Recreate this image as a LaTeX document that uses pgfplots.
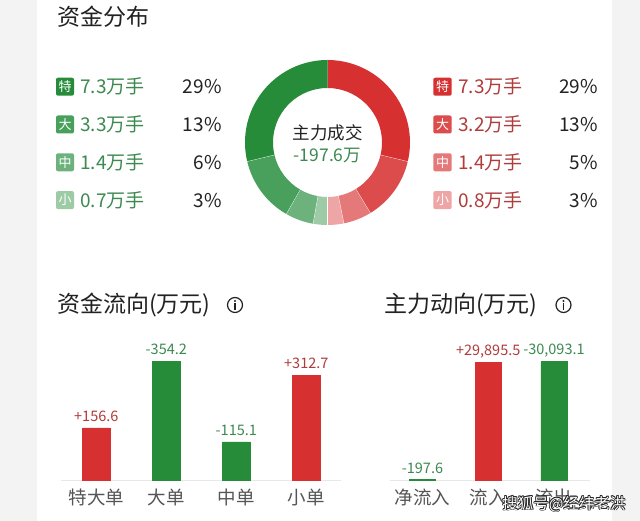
\documentclass[border=0pt]{standalone}
\usepackage{pgfplots}
\pgfplotsset{compat=1.18}
\usepackage{pgfplotstable}
\usepackage{fontspec}
\setmainfont{Noto Sans CJK SC}
\definecolor{bg}{HTML}{F3F3F3}
\definecolor{gA}{HTML}{268C3A}
\definecolor{gB}{HTML}{48A05C}
\definecolor{gC}{HTML}{6DB27C}
\definecolor{gD}{HTML}{9DCBA6}
\definecolor{rA}{HTML}{D63031}
\definecolor{rB}{HTML}{DC4C4C}
\definecolor{rC}{HTML}{E57878}
\definecolor{rD}{HTML}{EEA5A5}
\definecolor{gtxt}{HTML}{3C8A50}
\definecolor{rtxt}{HTML}{B03C3C}
\definecolor{dark}{HTML}{222222}
\definecolor{catc}{HTML}{555555}
\newcommand\fs[1]{\fontsize{#1}{#1}\selectfont}

\pgfplotstableread{
x y lab
0 156.6 +156.6
3 312.7 +312.7
}\flowred
\pgfplotstableread{
x y lab
1 354.2 -354.2
2 115.1 -115.1
}\flowgreen
\pgfplotstableread{
x y lab
1 29895.5 +29,895.5
}\mainred
\pgfplotstableread{
x y lab
0 197.6 -197.6
2 30093.1 -30,093.1
}\maingreen

\pgfplotsset{barchart/.style={
  anchor=south west, scale only axis, height=134.8pt,
  ymin=0, axis x line=bottom, axis y line=none,
  x axis line style={-,draw=black!9,line width=0.8pt},
  major tick length=0pt, ytick=\empty,
  xticklabel style={font=\fs{18.5},text=catc,anchor=base,yshift=-24pt},
  ybar, bar shift=0pt, clip=false, enlargelimits=false,
  nodes near coords, point meta=explicit symbolic,
  every node near coord/.append style={font=\fs{14.5},anchor=south,inner sep=0pt,text depth=0pt,yshift=6.4pt}
}}

\begin{document}
\begin{tikzpicture}[x=1pt,y=1pt]
\path[use as bounding box] (0,0) rectangle (640,521);
\fill[bg] (0,0) rectangle (640,521);
\fill[white] (37,0) rectangle (612,521);

% title
\node[anchor=west,inner sep=0,text=dark,font=\fs{23}] at (57,504.5) {资金分布};

% left legend (sell side)
\foreach \y/\c/\t/\v/\p in {434.3/gA/特/7.3/29, 396.5/gB/大/3.3/13, 358.7/gC/中/1.4/6, 320.9/gD/小/0.7/3} {
  \fill[\c, rounded corners=2pt] (56,\y-9) rectangle (74,\y+9);
  \node[text=white,font=\fs{13},inner sep=0] at (65,\y) {\t};
  \node[anchor=west, inner sep=0, text=gtxt, font=\fs{19}] at (80,\y) {\v 万手};
  \node[anchor=east, inner sep=0, text=dark, font=\fs{19}] at (221.7,\y) {\p\%};
}
% right legend (buy side)
\foreach \y/\c/\t/\v/\p in {434.3/rA/特/7.3/29, 396.5/rB/大/3.2/13, 358.7/rC/中/1.4/5, 320.9/rD/小/0.8/3} {
  \fill[\c, rounded corners=2pt] (433.3,\y-9) rectangle (451.7,\y+9);
  \node[text=white,font=\fs{13},inner sep=0] at (442.5,\y) {\t};
  \node[anchor=west, inner sep=0, text=rtxt, font=\fs{19}] at (458,\y) {\v 万手};
  \node[anchor=east, inner sep=0, text=dark, font=\fs{19}] at (598,\y) {\p\%};
}

% donut (volumes, total 25.4)
\begin{scope}[shift={(327.5,378.5)}]
\foreach \a/\b/\c in {0/7.3/rA, 7.3/10.5/rB, 10.5/11.9/rC, 11.9/12.7/rD}{
  \pgfmathsetmacro\sa{90-\a*360/25.4}
  \pgfmathsetmacro\ea{90-\b*360/25.4}
  \fill[\c] (\sa:82.5) arc[start angle=\sa,end angle=\ea,radius=82.5] -- (\ea:54.5) arc[start angle=\ea,end angle=\sa,radius=54.5] -- cycle;
  \draw[white,line width=0.7pt] (\ea:54) -- (\ea:83);
}
\foreach \a/\b/\c in {0/7.3/gA, 7.3/10.6/gB, 10.6/12.0/gC, 12.0/12.7/gD}{
  \pgfmathsetmacro\sa{90+\a*360/25.4}
  \pgfmathsetmacro\ea{90+\b*360/25.4}
  \fill[\c] (\sa:82.5) arc[start angle=\sa,end angle=\ea,radius=82.5] -- (\ea:54.5) arc[start angle=\ea,end angle=\sa,radius=54.5] -- cycle;
  \draw[white,line width=0.7pt] (\ea:54) -- (\ea:83);
}
\node[font=\fs{17.5},text=dark] at (0,10) {主力成交};
\node[font=\fs{17.5},text=gtxt] at (0,-13.5) {-197.6万};
\end{scope}

% bottom titles
\node[anchor=west,inner sep=0,text=dark,font=\fs{23}] at (57,216) {资金流向(万元)};
\draw[dark,line width=1.2pt] (235,216) circle (7.5);
\fill[dark] (235,220) circle (1.1);
\fill[dark] (234.2,210.8) rectangle (235.8,217.6);
\node[anchor=west,inner sep=0,text=dark,font=\fs{23}] at (384,216) {主力动向(万元)};
\draw[dark,line width=1.2pt] (563.5,216) circle (7.5);
\fill[dark] (563.5,220) circle (1.1);
\fill[dark] (562.7,210.8) rectangle (564.3,217.6);

% fund flow bars
\begin{axis}[barchart, at={(61.3pt,40.3pt)}, width=280pt, xmin=-0.5, xmax=3.5, ymax=400,
  xtick={0,1,2,3}, xticklabels={特大单,大单,中单,小单}, bar width=27.3pt]
\addplot[fill=rA,draw=rA,every node near coord/.append style={text=rtxt}] table[x=x,y=y,meta=lab]{\flowred};
\addplot[fill=gA,draw=gA,every node near coord/.append style={text=gtxt}] table[x=x,y=y,meta=lab]{\flowgreen};
\end{axis}

% main force bars
\begin{axis}[barchart, at={(389.6pt,40.3pt)}, width=200.5pt, xmin=-0.5, xmax=2.55, ymax=34080,
  xtick={0,1,2}, xticklabels={净流入,流入,流出}, bar width=26pt]
\addplot[fill=rA,draw=rA,every node near coord/.append style={text=rtxt}] table[x=x,y=y,meta=lab]{\mainred};
\addplot[fill=gA,draw=gA,line width=0.9pt,every node near coord/.append style={text=gtxt}] table[x=x,y=y,meta=lab]{\maingreen};
\end{axis}

% watermark
\foreach \dx/\dy in {-0.8/0,0.8/0,0/-0.8,0/0.8,-0.6/-0.6,0.6/0.6,-0.6/0.6,0.6/-0.6}
  \node[font=\fs{15.5},text=black!85] at (564+\dx,17+\dy) {搜狐号@经纬老洪};
\node[font=\fs{15.5},text=white] at (564,17) {搜狐号@经纬老洪};
\end{tikzpicture}
\end{document}
